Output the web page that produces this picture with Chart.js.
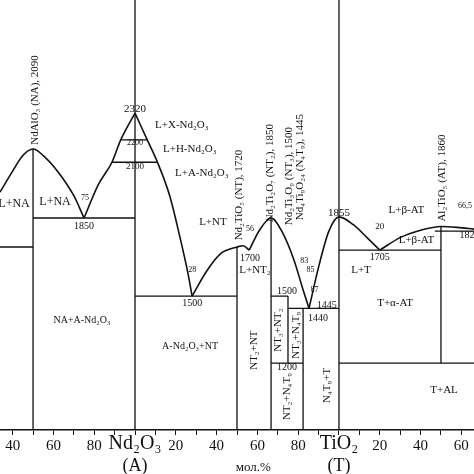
<!DOCTYPE html>
<html><head><meta charset="utf-8">
<script src="https://cdn.jsdelivr.net/npm/chart.js@4/dist/chart.umd.min.js"></script>
<style>html,body{margin:0;background:#fff}#wrap{width:474px;height:474px}</style>
</head><body><div id="wrap"><canvas id="c"></canvas></div>
<script>
// global x: Al2O3-Nd2O3 panel = 0..100, Nd2O3-TiO2 = 100..200, TiO2-Al2O3 = 200..300
const xMin = 33.8, xMax = 266.2, tMin = 900, tMax = 2827;
const tickVals = [40, 60, 80, 120, 140, 160, 180, 220, 240, 260];

const liquidus = [
  [[33.8,1966],[40,2060],[45,2130],[50,2159],[55,2130],[62,2060],[70,1950],[75,1850]],
  [[75,1850],[82,2000],[88.7,2100],[93,2200],[100,2320]],
  [[100,2320],[106,2200],[111,2100],[117,1950],[122,1765],[126,1600],[128,1500]],
  [[128,1500],[135,1610],[142,1690],[150,1720],[153,1726],[156,1706]],
  [[156,1706],[161,1795],[166.7,1850],[172,1790],[178,1660],[182,1540],[185.3,1445]],
  [[185.3,1445],[190,1630],[195,1790],[200,1855],[207,1820],[214,1760],[220,1706]],
  [[220,1706],[230,1762],[240,1795],[250,1812],[258,1808],[266.2,1800]]
];

const segments = [
  [100,tMin,100,tMax],[200,tMin,200,tMax],
  [50,2159,50,tMin],[33.8,1720,50,1720],[50,1850,100,1850],
  [88.7,2100,111,2100],[93,2200,106,2200],
  [100,1500,150,1500],[150,1720,150,tMin],[166.7,1850,166.7,tMin],
  [166.7,1500,175,1500],[175,1500,175,1200],[166.7,1200,182.4,1200],
  [175,1445,200,1445],[182.4,1445,182.4,tMin],
  [200,1706,250,1706],[250,1812,250,1200],[200,1200,266.2,1200],
  [247,1791,266.2,1791]
];

// [text, x, T, rotated, size]
const labels = [
  ['NdAlO₃ (NA), 2090',51,2379,1,11],
  ['L+NA',40.7,1912,0,12],['L+NA',60.8,1921,0,12],['75',75.5,1940,0,8],['1850',75,1814,0,10],
  ['2320',100,2339,0,11],['L+X-Nd₂O₃',109.8,2267,0,11,'left'],['2200',100,2185,0,8],
  ['L+H-Nd₂O₃',113.7,2159,0,11,'left'],['2100',100,2080,0,9],['L+A-Nd₂O₃',119.6,2051,0,11,'left'],
  ['L+NT',138.2,1832,0,11],['Nd₂TiO₅ (NT), 1720',151,1953,1,11],['56',156.4,1800,0,8],
  ['Nd₂Ti₂O₇ (NT₂), 1850',166,2051,1,11],['Nd₂Ti₃O₉ (NT₃), 1500',175.5,2038,1,11],
  ['Nd₄Ti₉O₂₄ (N₄T₉), 1445',181,2078,1,11],['1855',200,1872,0,11],['20',220,1810,0,9],
  ['L+β-AT',233,1886,0,11],['Al₂TiO₅ (AT), 1860',250.5,2029,1,11],['66,5',261.8,1904,0,8],
  ['1825',264,1770,0,10],['1700',156.4,1670,0,10],['L+NT₂',158.8,1617,0,11],
  ['83',183,1660,0,8],['85',186,1617,0,8],['87',188,1530,0,8],['1500',174.5,1522,0,10],
  ['1445',194,1460,0,10],['1440',189.7,1401,0,10],['1500',128,1469,0,10],['28',128,1617,0,8],
  ['L+T',210.8,1617,0,11],['1705',220,1675,0,10],['L+β-AT',238,1751,0,11],
  ['T+α-AT',227.5,1469,0,11],['T+AL',251.5,1078,0,11],['NA+A-Nd₂O₃',74,1392,0,10],
  ['A-Nd₂O₃+NT',127,1276,0,10],['NT₂+NT',158.3,1258,1,11],['NT₃+NT₂',170.4,1348,1,11],
  ['NT₃+N₄T₉',179,1325,1,11],['NT₂+N₄T₉',174.5,1050,1,11],['N₄T₉+T',194,1100,1,11],
  ['1200',174.5,1182,0,10]
];

const lineStyle = {borderColor:'#111', borderWidth:1.6, pointRadius:0, fill:false};
const datasets = liquidus.map(c => ({...lineStyle, data:c.map(p => ({x:p[0], y:p[1]})), cubicInterpolationMode:'monotone'}));
const segData = [];
segments.forEach(s => { segData.push({x:s[0],y:s[1]},{x:s[2],y:s[3]},{x:NaN,y:NaN}); });
datasets.push({...lineStyle, borderWidth:1.3, data:segData, spanGaps:false, tension:0});

const textPlugin = {
  id:'texts',
  afterDatasetsDraw(chart){
    const {ctx, scales:{x, y}} = chart;
    ctx.save();
    ctx.fillStyle = '#111';
    ctx.textBaseline = 'middle';
    labels.forEach(l => {
      ctx.font = l[4] + 'px "Liberation Serif"';
      ctx.textAlign = l[5] || 'center';
      ctx.save();
      ctx.translate(x.getPixelForValue(l[1]), y.getPixelForValue(l[2]));
      if (l[3]) ctx.rotate(-Math.PI/2);
      ctx.fillText(l[0], 0, 0);
      ctx.restore();
    });
    const by = chart.chartArea.bottom;
    ctx.textAlign = 'center';
    ctx.font = '20px "Liberation Serif"';
    ctx.fillText('Nd₂O₃', x.getPixelForValue(100), by + 14);
    ctx.fillText('TiO₂', x.getPixelForValue(200), by + 14);
    ctx.font = '18px "Liberation Serif"';
    ctx.fillText('(A)', x.getPixelForValue(100), by + 36);
    ctx.fillText('(T)', x.getPixelForValue(200), by + 36);
    ctx.font = '13px "Liberation Serif"';
    ctx.fillText('мол.%', x.getPixelForValue(158), by + 38);
    ctx.restore();
  }
};

new Chart(document.getElementById('c'), {
  type:'line',
  data:{datasets},
  plugins:[textPlugin],
  options:{
    responsive:true, maintainAspectRatio:false, animation:false,
    layout:{padding:0},
    plugins:{legend:{display:false}, tooltip:{enabled:false}},
    scales:{
      x:{type:'linear', min:xMin, max:xMax,
        afterFit(s){ s.height = 44; },
        afterBuildTicks(s){ s.ticks = []; for (let v = 40; v <= 260; v += 10) s.ticks.push({value:v}); },
        border:{color:'#111', width:1.5},
        grid:{drawOnChartArea:false, color:'#111', tickLength:5},
        ticks:{color:'#111', maxRotation:0, autoSkip:false, padding:2,
          font:{family:'Liberation Serif', size:15},
          callback:v => tickVals.includes(v) ? String(v % 100) : ''}
      },
      y:{display:false, min:tMin, max:tMax}
    }
  }
});
</script></body></html>
